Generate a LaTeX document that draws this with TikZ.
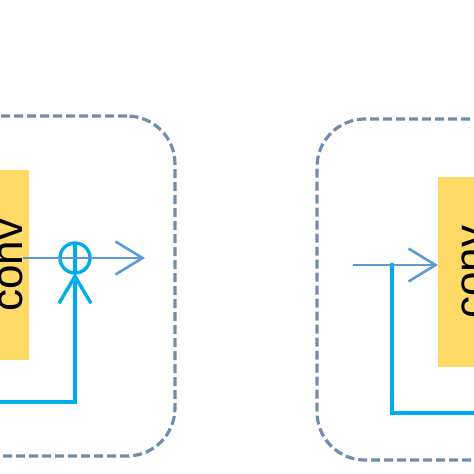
\documentclass[tikz,border=0pt]{standalone}
\usepackage{fontspec}
\setmainfont{Liberation Sans}
\usetikzlibrary{arrows.meta}
\definecolor{dashc}{RGB}{112,141,172}
\definecolor{convy}{RGB}{255,217,102}
\definecolor{steel}{RGB}{91,155,213}
\definecolor{skyc}{RGB}{0,172,236}
\begin{document}
\begin{tikzpicture}[x=1pt,y=-1pt,
  dashbox/.style={draw=dashc, line width=3.2pt, dash pattern=on 9pt off 4pt, rounded corners=48pt, inner sep=0, outer sep=0},
  convbox/.style={fill=convy, inner sep=0, outer sep=0},
  convtext/.style={rotate=90, anchor=base, font=\fontsize{44}{50}\selectfont, inner sep=0},
  mainarrow/.style={draw=steel, line width=2.6pt, -{Straight Barb[length=27pt,width=33pt]}},
  skipline/.style={draw=skyc, line width=3.4pt},
  addnode/.style={circle, draw=skyc, line width=3.4pt, minimum size=30pt, inner sep=0, outer sep=0}]
\useasboundingbox (0,0) rectangle (474,474);
\clip (0,0) rectangle (474,474);
% frames
\node[dashbox, minimum width=240pt, minimum height=340pt] (lframe) at (55,286) {};
\node[dashbox, minimum width=240pt, minimum height=341pt] (rframe) at (437,289.5) {};
% conv boxes
\node[convbox, minimum width=69pt, minimum height=190pt] (lconv) at (-5.5,265) {};
\node[convtext] (ltext) at (22,265) {conv};
\node[convbox, minimum width=70pt, minimum height=190pt] (rconv) at (473,272) {};
\node[convtext] (rtext) at (485,272) {conv};
% left block
\node[addnode] (add) at (75,258) {};
\coordinate (lskip) at (-10,402);
\draw[skipline, -{Straight Barb[length=27pt,width=32pt]}] (lskip) -| (add.south);
\draw[skipline] (add.north) -- (add.south);
\coordinate (lout) at (23,258);
\coordinate (lend) at (145,258);
\draw[mainarrow] (lout) -- (lend);
% right block
\coordinate (rbranch) at (392,263);
\coordinate (rskipend) at (480,413);
\draw[skipline] (rbranch) |- (rskipend);
\coordinate (rin) at (353,265);
\draw[mainarrow] (rin) -- (rin -| rconv.west);
\end{tikzpicture}
\end{document}
